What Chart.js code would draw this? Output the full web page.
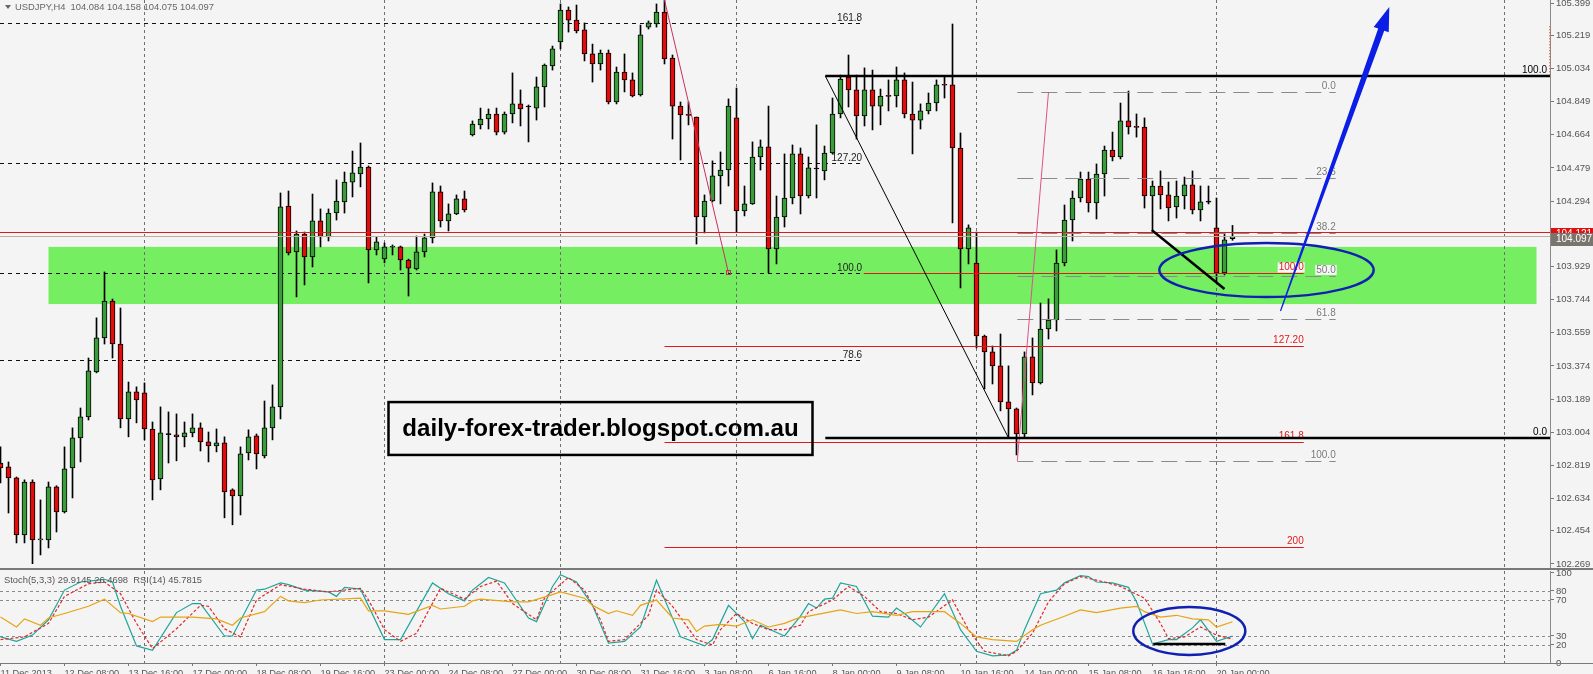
<!DOCTYPE html>
<html>
<head>
<meta charset="utf-8">
<script src="https://cdn.jsdelivr.net/npm/chart.js"></script>
<style>
  html, body { margin: 0; padding: 0; background: #f4f4f4; }
  #wrap { position: relative; width: 1593px; height: 674px; overflow: hidden; background: #f4f4f4; }
  #main { position: absolute; left: 0; top: 0; }
  #ind { position: absolute; left: 0; top: 568px; }
</style>
</head>
<body>
<div id="wrap">
  <canvas id="main" width="1593" height="568"></canvas>
  <canvas id="ind" width="1593" height="106"></canvas>
</div>
<script>
// USDJPY H4 bars (bar 0 = 11 Dec 2013 00:00)
const opens = [102.832,102.810,102.749,102.431,102.726,102.403,102.403,102.699,102.559,102.805,
  102.972,103.089,103.340,103.530,103.736,103.496,103.078,103.229,103.223,103.022,
  102.743,102.990,102.989,102.978,103.000,103.028,102.950,102.927,102.944,102.682,
  102.648,102.888,102.983,102.872,103.028,103.145,104.266,104.010,104.110,103.982,
  104.183,104.094,104.227,104.289,104.400,104.445,104.484,104.021,103.971,104.036,
  104.038,103.965,103.915,104.010,104.088,104.345,104.183,104.222,104.306,104.663,
  104.719,104.752,104.780,104.679,104.780,104.836,104.821,104.813,104.931,105.048,
  105.182,105.360,105.304,105.249,105.115,105.059,105.120,104.847,105.014,104.970,
  104.886,105.265,105.282,105.349,105.092,104.824,104.777,104.763,104.205,104.294,
  104.434,104.467,104.758,104.239,104.278,104.540,104.596,104.027,104.205,104.311,
  104.557,104.322,104.476,104.462,104.562,104.780,104.986,104.914,104.769,104.914,
  104.824,104.882,104.880,104.970,104.780,104.746,104.797,104.841,104.944,104.942,
  104.590,104.027,103.948,103.541,103.452,103.374,103.173,103.134,102.994,103.424,
  103.279,103.580,103.630,103.948,104.188,104.311,104.417,104.283,104.445,104.579,
  104.540,104.741,104.709,104.707,104.322,104.378,104.328,104.261,104.322,104.384,
  104.244,104.290,104.144,103.893,104.084];
const highs = [102.922,102.838,102.754,102.738,102.738,102.626,102.726,102.705,102.922,103.028,
  103.139,103.418,103.642,103.898,103.747,103.697,103.284,103.257,103.279,103.061,
  103.145,103.117,103.106,103.061,103.106,103.056,103.005,103.022,102.978,102.688,
  102.922,103.017,102.994,103.178,103.268,104.339,104.350,104.127,104.121,104.333,
  104.250,104.250,104.412,104.456,104.573,104.618,104.490,104.094,104.060,104.049,
  104.043,103.970,104.099,104.110,104.395,104.378,104.278,104.328,104.350,104.741,
  104.813,104.808,104.813,104.791,105.009,104.914,104.830,104.986,105.059,105.159,
  105.394,105.377,105.388,105.288,105.170,105.137,105.137,105.042,105.115,105.009,
  105.276,105.299,105.394,105.416,105.109,104.847,104.847,104.763,104.328,104.518,
  104.568,104.864,104.925,104.378,104.624,104.635,104.824,104.322,104.557,104.607,
  104.590,104.540,104.719,104.601,104.869,104.997,105.109,104.997,105.037,105.025,
  104.919,104.970,105.042,105.009,104.958,104.836,104.897,104.970,104.986,105.282,
  104.674,104.161,104.121,103.546,103.485,103.552,103.374,103.139,103.452,103.530,
  103.725,103.748,104.021,104.272,104.350,104.456,104.456,104.501,104.601,104.679,
  104.841,104.908,104.780,104.758,104.406,104.462,104.400,104.406,104.428,104.462,
  104.378,104.378,104.311,104.116,104.158];
const lows = [102.721,102.553,102.386,102.386,102.270,102.319,102.358,102.447,102.553,102.637,
  102.838,103.072,103.335,103.496,103.418,103.028,102.978,103.056,102.961,102.626,
  102.682,102.832,102.844,102.922,102.978,102.899,102.838,102.894,102.526,102.487,
  102.542,102.849,102.799,102.860,102.961,103.078,103.993,103.759,103.826,103.926,
  104.038,104.071,104.188,104.227,104.317,104.373,103.837,103.993,103.949,103.993,
  103.909,103.764,103.909,103.982,104.060,104.149,104.127,104.218,104.233,104.657,
  104.696,104.696,104.663,104.668,104.730,104.713,104.624,104.746,104.819,105.025,
  105.143,105.237,105.232,105.076,104.958,105.025,104.836,104.836,104.903,104.875,
  104.880,105.254,105.265,105.059,104.640,104.523,104.719,104.054,104.116,104.289,
  104.278,104.378,104.121,104.211,104.275,104.467,103.893,103.943,104.149,104.278,
  104.222,104.311,104.311,104.412,104.557,104.758,104.819,104.640,104.713,104.691,
  104.719,104.797,104.819,104.758,104.557,104.696,104.780,104.797,104.869,104.172,
  103.809,103.943,103.474,103.245,103.273,103.123,102.972,102.877,102.972,103.212,
  103.273,103.524,103.569,103.932,104.071,104.289,104.233,104.194,104.322,104.518,
  104.529,104.668,104.651,104.255,104.133,104.250,104.183,104.199,104.250,104.222,
  104.183,104.278,103.842,103.882,104.075];
const closes = [102.805,102.749,102.431,102.726,102.403,102.408,102.699,102.559,102.799,102.972,
  103.089,103.346,103.530,103.736,103.496,103.078,103.229,103.184,103.022,102.738,
  103.000,102.992,102.978,103.000,103.028,102.950,102.927,102.944,102.671,102.648,
  102.883,102.978,102.883,103.028,103.145,104.261,104.004,104.110,103.982,104.183,
  104.094,104.227,104.294,104.400,104.451,104.484,104.021,104.066,104.038,104.040,
  103.965,103.920,104.010,104.088,104.345,104.183,104.222,104.306,104.244,104.724,
  104.752,104.780,104.679,104.780,104.836,104.808,104.819,104.931,105.053,105.143,
  105.360,105.304,105.243,105.115,105.059,105.120,104.847,105.014,104.970,104.880,
  105.221,105.288,105.349,105.087,104.824,104.774,104.772,104.205,104.294,104.434,
  104.467,104.824,104.239,104.278,104.540,104.596,104.027,104.205,104.311,104.557,
  104.322,104.479,104.473,104.562,104.780,104.975,104.914,104.769,104.914,104.824,
  104.880,104.878,104.970,104.780,104.746,104.797,104.841,104.942,104.940,104.590,
  104.027,104.144,103.541,103.452,103.374,103.173,103.134,102.994,103.424,103.279,
  103.580,103.630,103.948,104.188,104.311,104.417,104.283,104.445,104.579,104.540,
  104.741,104.707,104.705,104.322,104.378,104.328,104.255,104.322,104.384,104.244,
  104.289,104.288,103.893,104.077,104.097];

// price axis labels and time axis labels
const priceTicks = [105.399,105.219,105.034,104.849,104.664,104.479,104.294,104.109,103.929,103.744,
  103.559,103.374,103.189,103.004,102.819,102.634,102.454,102.269];
const timeIdx = [0,8,16,24,32,40,48,56,64,72,80,88,96,104,112,120,128,136,144,152];
const timeLabels = ['11 Dec 2013','12 Dec 08:00','13 Dec 16:00','17 Dec 00:00','18 Dec 08:00','19 Dec 16:00',
  '23 Dec 00:00','24 Dec 08:00','27 Dec 00:00','30 Dec 08:00','31 Dec 16:00','3 Jan 08:00','6 Jan 16:00',
  '8 Jan 00:00','9 Jan 08:00','10 Jan 16:00','14 Jan 00:00','15 Jan 08:00','16 Jan 16:00','20 Jan 00:00'];
const weekSeps = [18,48,70,92,122,152,188];

// Stoch(5,3,3) main, signal and RSI(14), read at turning points
const kIdx = [0,2,4,6,8,10,13,14,15,17,19,22,24,25,28,29,32,33,35,36,38,41,42,43,45,48,50,54,56,58,
  59,61,63,66,67,69,70,72,74,76,78,80,82,85,88,89,91,93,94,95,98,100,101,102,103,104,105,107,109,111,
  112,113,115,118,120,122,124,126,127,128,130,132,133,135,136,137,139,141,142,144,146,147,149,150,152,154];
const kVal = [29,24,31,48,81,90,93,90,63,19,14,56,66,66,30,30,81,82,89,87,81,79,74,84,82,26,26,89,77,69,
  81,95,89,50,46,85,98,90,64,22,24,40,92,29,19,26,64,46,27,42,30,52,66,61,71,72,89,85,52,51,
  61,55,40,77,37,13,8,9,14,37,77,81,89,97,96,90,89,84,68,21,26,26,39,48,24,29.9];
const dIdx = [0,3,6,8,11,13,15,17,19,22,25,26,28,30,32,35,38,41,45,46,48,50,52,55,58,60,62,64,67,68,
  71,73,75,76,78,81,82,84,87,89,90,92,94,96,98,100,101,104,106,108,110,112,114,116,119,121,123,126,127,129,
  131,133,135,138,140,143,145,146,148,150,152,154];
const dVal = [26,29,44,74,88,90,77,44,16,38,64,63,38,29,70,87,82,79,83,70,37,24,33,83,71,85,91,66,48,72,
  95,81,48,24,26,53,81,63,26,20,37,55,44,37,37,42,57,70,85,74,57,55,48,51,70,37,13,8,13,33,
  68,88,96,90,85,72,44,27,29,40,31,26.5];
const rsiIdx = [0,2,3,5,6,8,11,13,15,16,19,20,24,27,29,30,33,35,36,38,40,45,46,48,51,54,55,58,59,60,
  64,66,69,70,73,74,76,77,79,80,82,84,86,87,88,90,92,94,96,98,100,101,105,107,109,112,114,118,120,122,
  124,127,129,130,133,135,137,140,142,143,145,147,149,151,152,154];
const rsiVal = [51,40,49,42,50,55,63,71,56,55,46,51,51,49,42,50,57,74,69,67,70,72,58,58,54,64,60,63,69,71,
  68,68,76,79,72,64,55,58,53,64,70,50,48,35,41,43,41,48,40,44,51,52,59,55,57,53,57,57,44,29,
  26,24,37,42,52,59,56,61,63,57,51,53,49,48,40,45.8];
const indLevels = [80,70,30,20];

// drawn objects (bar index / price)
const zone = { from: 6, to: 192, top: 104.038, bottom: 103.719 };
const askPrice = 104.121, bidPrice = 104.097;
const leftFibLevels = [105.287,104.506,103.892,103.407];
const leftFibLabels = ['161.8','127.20','100.0','78.6'];
const blackFibLevels = [104.992,102.972];
const blackFibLabels = ['100.0','0.0'];
const greyFibLevels = [104.902,104.422,104.116,103.876,103.636,102.843];
const greyFibLabels = ['0.0','23.6','38.2','50.0','61.8','100.0'];
const redFibLevels = [103.892,103.485,102.949,102.363];
const redFibLabels = ['100.0','127.20','161.8','200'];
const redFibStart = [107.9,83,83,83];

const X_MIN = -0.0625, X_MAX = 193.6875;
const Y_MIN = 102.246, Y_MAX = 105.416;

Chart.defaults.font.family = '"Liberation Sans", Arial, sans-serif';
Chart.defaults.font.size = 9.5;

function seg(ctx, x0, y0, x1, y1) {
  ctx.beginPath(); ctx.moveTo(x0, y0); ctx.lineTo(x1, y1); ctx.stroke();
}
function crisp(v) { return Math.round(v) + 0.5; }
// label with a background patch, as the terminal draws object text
function tag(ctx, text, xr, yb, color) {
  const w = ctx.measureText(text).width;
  ctx.fillStyle = '#f6f6f6';
  ctx.fillRect(xr - w - 1, yb - 10, w + 2, 10);
  ctx.fillStyle = color;
  ctx.fillText(text, xr, yb);
}

const mainDecor = {
  id: 'mainDecor',
  beforeDatasetsDraw(chart) {
    const { ctx, chartArea: a, scales: { x, y } } = chart;
    ctx.save();
    // support zone
    ctx.fillStyle = '#76ee62';
    const zx0 = x.getPixelForValue(zone.from), zx1 = x.getPixelForValue(zone.to);
    const zy0 = y.getPixelForValue(zone.top), zy1 = y.getPixelForValue(zone.bottom);
    ctx.fillRect(zx0, zy0, zx1 - zx0, zy1 - zy0);
    // week separators
    ctx.strokeStyle = '#6f6f6f'; ctx.lineWidth = 1; ctx.setLineDash([3, 3]);
    weekSeps.forEach(i => { const px = crisp(x.getPixelForValue(i) - 0.5); seg(ctx, px, a.top, px, a.bottom); });
    // black dotted fibo levels on the left
    ctx.strokeStyle = '#111'; ctx.setLineDash([4, 4]);
    const lx1 = x.getPixelForValue(107.7);
    leftFibLevels.forEach(p => { const py = crisp(y.getPixelForValue(p)); seg(ctx, a.left, py, lx1, py); });
    ctx.setLineDash([]);
    ctx.restore();
  },
  afterDatasetsDraw(chart) {
    const { ctx, chartArea: a, scales: { x, y } } = chart;
    const X = v => x.getPixelForValue(v), Y = v => y.getPixelForValue(v);
    ctx.save();
    ctx.font = '10px "Liberation Sans", Arial, sans-serif';
    ctx.textBaseline = 'bottom'; ctx.textAlign = 'right';
    // left fibo labels
    ctx.fillStyle = '#222';
    leftFibLevels.forEach((p, k) => ctx.fillText(leftFibLabels[k], X(107.7), Y(p)));

    // ask / bid lines
    ctx.lineWidth = 1;
    ctx.strokeStyle = '#b8b0a8';
    seg(ctx, a.left, crisp(Y(bidPrice)), a.right, crisp(Y(bidPrice)));
    ctx.strokeStyle = '#e01818';
    seg(ctx, a.left, crisp(Y(askPrice)), a.right, crisp(Y(askPrice)));

    // red fibo expansion
    ctx.strokeStyle = '#e01818';
    redFibLevels.forEach((p, k) => {
      const py = crisp(Y(p));
      seg(ctx, X(redFibStart[k]), py, X(162.9), py);
    });
    redFibLevels.forEach((p, k) => tag(ctx, redFibLabels[k], X(162.9), crisp(Y(p)) - 1, '#e01818'));
    // red trend line with end marker
    ctx.strokeStyle = '#c8305a';
    seg(ctx, X(83), Y(105.416), X(91), Y(103.892));
    ctx.strokeRect(Math.round(X(91)) - 2.5, Math.round(Y(103.892)) - 2.5, 4, 4);

    // grey dashed fibo retracement
    ctx.strokeStyle = '#8a8a8a'; ctx.setLineDash([16, 8]);
    greyFibLevels.forEach(p => {
      const py = crisp(Y(p));
      seg(ctx, X(127.1), py, X(166.9), py);
    });
    ctx.setLineDash([]);
    greyFibLevels.forEach((p, k) => tag(ctx, greyFibLabels[k], X(166.9), Y(p) - 1, '#7a7a7a'));
    ctx.strokeStyle = '#e0508a';
    seg(ctx, X(127.1), Y(102.843), X(131), Y(104.902));

    // black solid fibo
    ctx.strokeStyle = '#000'; ctx.lineWidth = 2.5;
    blackFibLevels.forEach(p => seg(ctx, X(103.1), Y(p), a.right, Y(p)));
    ctx.lineWidth = 1;
    seg(ctx, X(103.1), Y(104.992), X(126), Y(102.972));
    ctx.fillStyle = '#000';
    blackFibLevels.forEach((p, k) => ctx.fillText(blackFibLabels[k], a.right - 3, Y(p) - 1));

    // black trend line under the last candles
    ctx.lineWidth = 2.5;
    seg(ctx, X(143.9), Y(104.132), X(153), Y(103.803));

    // blue ellipse
    ctx.strokeStyle = '#1020b0'; ctx.lineWidth = 2.5;
    const ecx = X(158.25), ecy = Y(103.909);
    ctx.beginPath();
    ctx.ellipse(ecx, ecy, X(158.25 + 13.4) - ecx, Y(103.909 - 0.151) - ecy, 0, 0, Math.PI * 2);
    ctx.stroke();

    // blue arrow
    const ax0 = X(160), ay0 = Y(103.680), ax1 = X(173.6), ay1 = Y(105.377);
    const dx = ax1 - ax0, dy = ay1 - ay0, len = Math.hypot(dx, dy);
    const ux = dx / len, uy = dy / len, nx = -uy, ny = ux;
    const hb = len - 24;
    const bx = ax0 + ux * hb, by = ay0 + uy * hb;
    ctx.fillStyle = '#0a1ee6';
    ctx.beginPath();
    ctx.moveTo(ax0 + nx * 0.6, ay0 + ny * 0.6);
    ctx.lineTo(bx + nx * 3.2, by + ny * 3.2);
    ctx.lineTo(bx + nx * 8, by + ny * 8);
    ctx.lineTo(ax1, ay1);
    ctx.lineTo(bx - nx * 8, by - ny * 8);
    ctx.lineTo(bx - nx * 3.2, by - ny * 3.2);
    ctx.lineTo(ax0 - nx * 0.6, ay0 - ny * 0.6);
    ctx.closePath(); ctx.fill();

    // text box
    const bx0 = X(48.5), bx1 = X(101.5), by0 = Y(103.172), by1 = Y(102.877);
    ctx.strokeStyle = '#000'; ctx.lineWidth = 2.5;
    ctx.strokeRect(bx0, by0, bx1 - bx0, by1 - by0);
    ctx.fillStyle = '#000'; ctx.textAlign = 'center'; ctx.textBaseline = 'middle';
    ctx.font = 'bold 22px "Liberation Sans", Arial, sans-serif';
    const tw = ctx.measureText('daily-forex-trader.blogspot.com.au').width;
    const fs = 22 * 397 / tw;
    ctx.font = 'bold ' + fs.toFixed(1) + 'px "Liberation Sans", Arial, sans-serif';
    ctx.fillText('daily-forex-trader.blogspot.com.au', (bx0 + bx1) / 2, (by0 + by1) / 2 + 1);
    ctx.restore();
  },
  afterDraw(chart) {
    const { ctx, chartArea: a, scales: { y } } = chart;
    ctx.save();
    // header
    ctx.fillStyle = '#666';
    ctx.beginPath(); ctx.moveTo(5, 5); ctx.lineTo(11, 5); ctx.lineTo(8, 9); ctx.closePath(); ctx.fill();
    ctx.font = '9.4px "Liberation Sans", Arial, sans-serif';
    ctx.textBaseline = 'middle'; ctx.textAlign = 'left';
    ctx.fillText('USDJPY,H4  104.084 104.158 104.075 104.097', 15, 7);
    // price marker dots on the axis
    ctx.strokeStyle = '#c07050'; ctx.setLineDash([1, 2]); ctx.lineWidth = 2;
    seg(ctx, a.right, y.getPixelForValue(105.27), a.right, y.getPixelForValue(104.99));
    ctx.setLineDash([]);
    // ask / bid labels
    ctx.font = '10px "Liberation Sans", Arial, sans-serif';
    const ya = Math.round(y.getPixelForValue(askPrice)), yb = Math.round(y.getPixelForValue(bidPrice));
    ctx.fillStyle = '#e01010'; ctx.fillRect(a.right + 1, ya - 4, 42, 12);
    ctx.fillStyle = '#fff'; ctx.fillText(askPrice.toFixed(3), a.right + 6, ya + 2);
    ctx.fillStyle = '#7a746e'; ctx.fillRect(a.right + 1, yb - 3, 42, 13);
    ctx.fillStyle = '#fff'; ctx.fillText(bidPrice.toFixed(3), a.right + 6, yb + 3.5);
    ctx.restore();
  }
};

const bodyColors = opens.map((o, i) => Math.abs(closes[i] - o) < 0.004 ? '#000' : (closes[i] > o ? '#3a9c3a' : '#e00d0d'));

new Chart(document.getElementById('main'), {
  type: 'bar',
  data: {
    datasets: [
      {
        label: 'body',
        data: opens.map((o, i) => ({ x: i, y: [o, closes[i]] })),
        backgroundColor: bodyColors,
        borderColor: '#000',
        borderWidth: 1,
        borderSkipped: false,
        barThickness: 5,
        minBarLength: 1,
        grouped: false,
        order: 0
      },
      {
        label: 'wick',
        data: lows.map((l, i) => ({ x: i, y: [l, highs[i]] })),
        backgroundColor: '#000',
        barThickness: 1,
        grouped: false,
        order: 1
      }
    ]
  },
  options: {
    responsive: false,
    animation: false,
    devicePixelRatio: 1,
    layout: { padding: 0 },
    plugins: { legend: { display: false }, tooltip: { enabled: false } },
    scales: {
      x: { type: 'linear', min: X_MIN, max: X_MAX, offset: false, display: false },
      y: {
        type: 'linear', position: 'right', min: Y_MIN, max: Y_MAX,
        afterBuildTicks: s => { s.ticks = priceTicks.map(v => ({ value: v })); },
        afterFit: s => { s.width = 43; s.paddingTop = 0; s.paddingBottom = 0; },
        ticks: { callback: v => v.toFixed(3), color: '#555', padding: 2, autoSkip: false },
        grid: { drawOnChartArea: false, drawTicks: true, tickLength: 4, color: '#777' },
        border: { display: true, color: '#8a8a8a' }
      }
    }
  },
  plugins: [mainDecor]
});

const indDecor = {
  id: 'indDecor',
  beforeDatasetsDraw(chart) {
    const { ctx, chartArea: a, scales: { x, y } } = chart;
    ctx.save();
    ctx.fillStyle = '#7a7a7a'; ctx.fillRect(0, 0, chart.width, 2);
    ctx.strokeStyle = '#8a8a8a'; ctx.lineWidth = 1; ctx.setLineDash([3, 3]);
    indLevels.forEach(v => { const py = crisp(y.getPixelForValue(v)); seg(ctx, a.left, py, a.right, py); });
    ctx.strokeStyle = '#6f6f6f';
    weekSeps.forEach(i => { const px = crisp(x.getPixelForValue(i) - 0.5); seg(ctx, px, a.top, px, a.bottom); });
    ctx.restore();
  },
  afterDatasetsDraw(chart) {
    const { ctx, scales: { x, y } } = chart;
    ctx.save();
    ctx.strokeStyle = '#000'; ctx.lineWidth = 2.5;
    seg(ctx, x.getPixelForValue(144.1), y.getPixelForValue(21), x.getPixelForValue(153.1), y.getPixelForValue(21));
    ctx.strokeStyle = '#1020b0'; ctx.lineWidth = 2.5;
    const cx = x.getPixelForValue(148.6), cy = y.getPixelForValue(35.6);
    ctx.beginPath();
    ctx.ellipse(cx, cy, x.getPixelForValue(155.6) - cx, y.getPixelForValue(35.6 - 26.7) - cy, 0, 0, Math.PI * 2);
    ctx.stroke();
    ctx.restore();
  },
  afterDraw(chart) {
    const { ctx } = chart;
    ctx.save();
    ctx.fillStyle = '#555'; ctx.font = '9.4px "Liberation Sans", Arial, sans-serif';
    ctx.textBaseline = 'middle';
    ctx.fillText('Stoch(5,3,3) 29.9145 26.4698  RSI(14) 45.7815', 4, 12);
    ctx.fillStyle = '#7a7a7a'; ctx.fillRect(0, 95, chart.width, 1);
    ctx.restore();
  }
};

const pts = (xs, vs) => xs.map((v, j) => ({ x: v, y: vs[j] }));

new Chart(document.getElementById('ind'), {
  type: 'line',
  data: {
    datasets: [
      { label: 'RSI(14)', data: pts(rsiIdx, rsiVal), borderColor: '#e6a412', borderWidth: 1.2, pointRadius: 0, tension: 0 },
      { label: 'Signal', data: pts(dIdx, dVal), borderColor: '#e02828', borderWidth: 1.2, borderDash: [3, 2], pointRadius: 0, tension: 0 },
      { label: 'Stoch', data: pts(kIdx, kVal), borderColor: '#1ea59c', borderWidth: 1.2, pointRadius: 0, tension: 0 }
    ]
  },
  options: {
    responsive: false,
    animation: false,
    devicePixelRatio: 1,
    layout: { padding: { top: 3, left: 0, right: 0, bottom: 0 } },
    plugins: { legend: { display: false }, tooltip: { enabled: false } },
    scales: {
      x: {
        type: 'linear', min: X_MIN, max: X_MAX, offset: false,
        afterBuildTicks: s => { s.ticks = timeIdx.map(v => ({ value: v })); },
        afterFit: s => { s.height = 11; s.paddingLeft = 0; s.paddingRight = 0; },
        ticks: { callback: (v, k) => timeLabels[k], align: 'start', color: '#555', padding: 2, autoSkip: false, maxRotation: 0, font: { size: 9.2 } },
        grid: { drawOnChartArea: false, drawTicks: true, tickLength: 3, color: '#777' },
        border: { display: false }
      },
      y: {
        type: 'linear', position: 'right', min: 0, max: 102.2,
        afterBuildTicks: s => { s.ticks = [100, 80, 70, 30, 20, 0].map(v => ({ value: v })); },
        afterFit: s => { s.width = 43; s.paddingTop = 0; s.paddingBottom = 0; },
        ticks: { color: '#555', padding: 2, autoSkip: false },
        grid: { drawOnChartArea: false, drawTicks: true, tickLength: 4, color: '#777' },
        border: { display: true, color: '#8a8a8a' }
      }
    }
  },
  plugins: [indDecor]
});
</script>
</body>
</html>
